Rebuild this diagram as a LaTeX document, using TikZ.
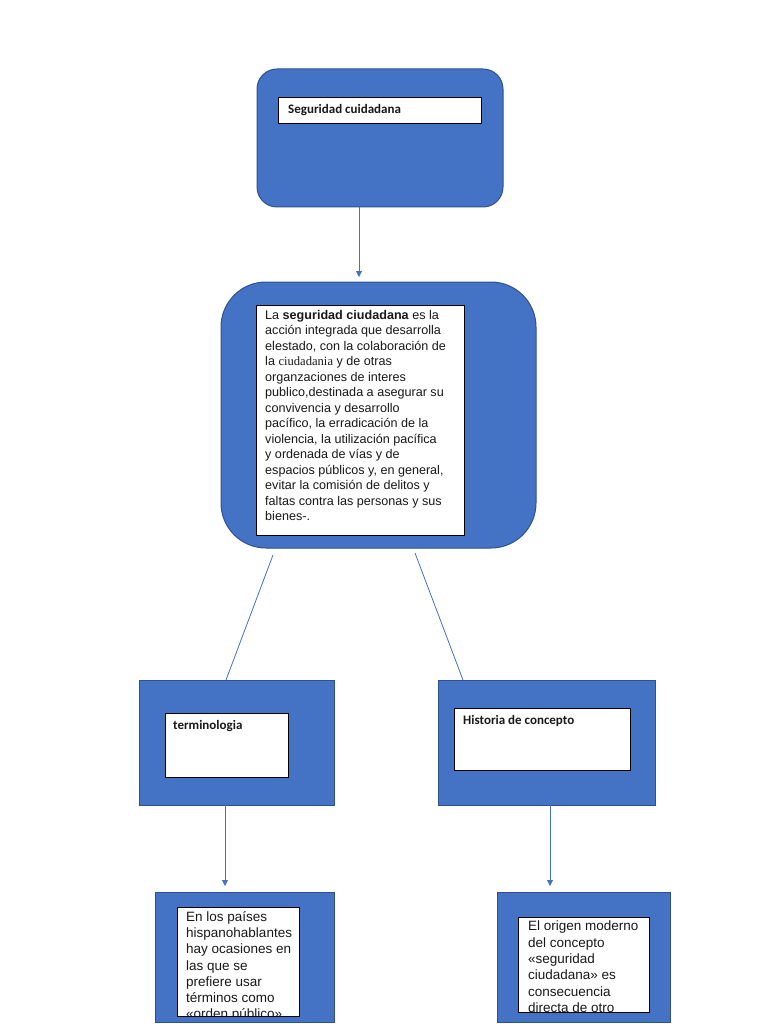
\documentclass[tikz,border=0pt]{standalone}
\usepackage{fontspec}
\setmainfont{Liberation Sans}
\newfontfamily\calib{Carlito}
\usetikzlibrary{arrows.meta}
\begin{document}
\begin{tikzpicture}[x=1pt,y=-1pt,
  bluebox/.style={fill=blu,draw=bluedark,line width=1pt},
  whitebox/.style={fill=white,draw=black,line width=0.8pt},
  conn/.style={draw=blu,line width=0.8pt},
  arr/.style={conn,-{Triangle[length=6pt,width=6pt]}},
  txt/.style={anchor=north west,align=left,inner sep=0pt,text=black!90}]
\definecolor{blu}{HTML}{4472C4}
\definecolor{bluedark}{HTML}{2F528F}
\useasboundingbox (0,0) rectangle (768,1024);
% top
\draw[bluebox,rounded corners=20pt] (257,69) rectangle (503,207);
\node[whitebox,minimum width=203pt,minimum height=26pt,anchor=north west,inner sep=0pt] (t1) at (278,97) {};
\node[txt,font=\calib\bfseries\fontsize{13}{15}\selectfont] at (288,104) {Seguridad cuidadana};
\coordinate (a1) at (359,207);
\coordinate (a2) at (359,277);
\draw[arr] (a1) -- (a2);
% main
\draw[bluebox,rounded corners=45pt] (221,282) rectangle (536,548);
\draw[whitebox] (256,305) rectangle (464,535);
\node[txt,font=\fontsize{12.6}{15.5}\selectfont] (mt) at (265,310) {La \textbf{seguridad ciudadana} es la\\acción integrada que desarrolla\\elestado, con la colaboración de\\la {\fontspec{Liberation Serif}ciudadania} y de otras\\organzaciones de interes\\publico,destinada a asegurar su\\convivencia y desarrollo\\pacífico, la erradicación de la\\violencia, la utilización pacífica\\y ordenada de vías y de\\espacios públicos y, en general,\\evitar la comisión de delitos y\\faltas contra las personas y sus\\bienes-.};
\coordinate (l1) at (273,555); \coordinate (l2) at (226,680);
\coordinate (r1) at (415,553); \coordinate (r2) at (463,680);
\draw[conn] (l1) -- (l2);
\draw[conn] (r1) -- (r2);
% middle boxes
\draw[bluebox] (139,680) rectangle (334,805);
\draw[whitebox] (165,713) rectangle (288,777);
\node[txt,font=\calib\bfseries\fontsize{13}{15}\selectfont] (term) at (173,720) {terminologia};
\draw[bluebox] (438,680) rectangle (655,805);
\draw[whitebox] (454,708) rectangle (630,770);
\node[txt,font=\calib\bfseries\fontsize{13}{15}\selectfont] (hist) at (463,715) {Historia de concepto};
\coordinate (b1) at (225,805); \coordinate (b2) at (225,886);
\coordinate (c1) at (550,805); \coordinate (c2) at (550,886);
\draw[arr] (b1) -- (b2);
\draw[arr] (c1) -- (c2);
% bottom boxes
\draw[bluebox] (155,892) rectangle (334,1022);
\draw[bluebox] (497,892) rectangle (670,1022);
\draw[whitebox] (177,907) rectangle (299,1016);
\draw[whitebox] (518,917) rectangle (649,1012);
\begin{scope}
\clip (177,907) rectangle (299,1015);
\node[txt,font=\fontsize{13.5}{16.3}\selectfont] (bl) at (186,911) {En los países\\hispanohablantes\\hay ocasiones en\\las que se\\prefiere usar\\términos como\\«orden público»};
\end{scope}
\begin{scope}
\clip (518,917) rectangle (649,1011);
\node[txt,font=\fontsize{13.5}{16.3}\selectfont] (br) at (528,921) {El origen moderno\\del concepto\\«seguridad\\ciudadana» es\\consecuencia\\directa de otro};
\end{scope}
\end{tikzpicture}
\end{document}
